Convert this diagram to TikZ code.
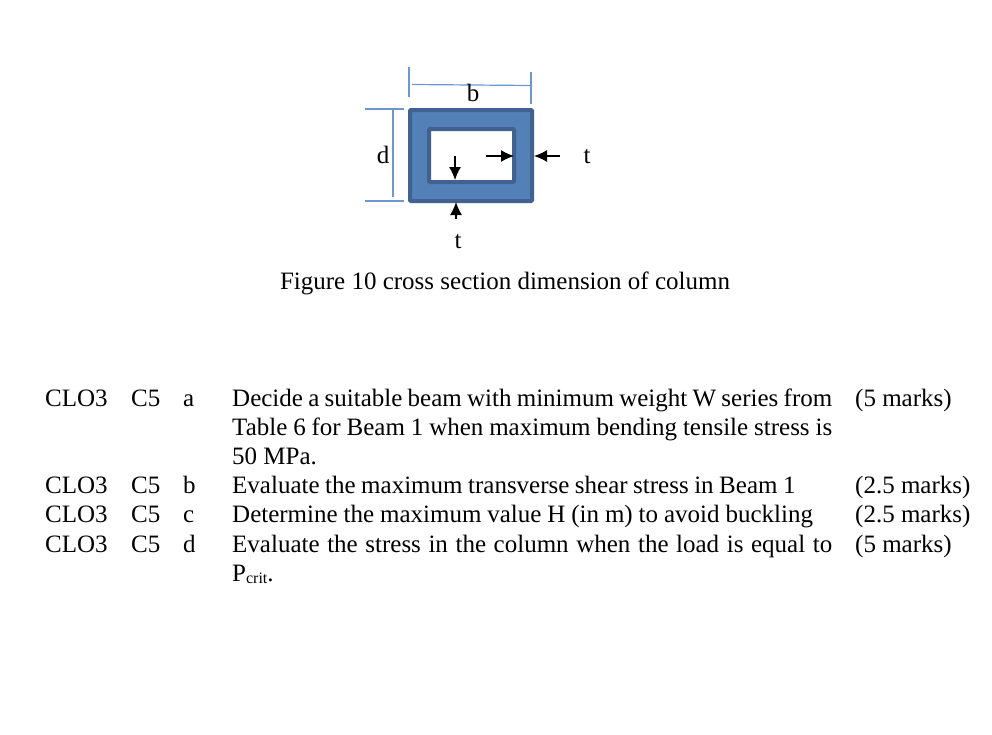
\documentclass[tikz,border=0pt]{standalone}
\usepackage{fontspec}
\setmainfont{Liberation Serif}
\usetikzlibrary{arrows.meta}
\definecolor{secfill}{HTML}{5480B8}
\definecolor{secline}{HTML}{41628F}
\definecolor{dimline}{HTML}{6F97CF}
\tikzset{
  txt/.style={inner sep=0pt,anchor=base west,font=\fontsize{25}{29}\selectfont},
  para/.style={txt,text width=600pt,align=justify},
  lbl/.style={inner sep=0pt,anchor=base,font=\fontsize{25}{29}\selectfont},
  dimen/.style={draw=dimline,line width=1.2pt},
  tarrow/.style={-{Latex[length=13pt,width=12pt]},line width=1.2pt,black}
}
\begin{document}
\begin{tikzpicture}[x=1pt,y=-1pt]
    \useasboundingbox (0,0) rectangle (992,734);
    % section
    \draw [fill=secfill,draw=secline,line width=4pt,rounded corners=1pt] (410,110) rectangle (532,201);
    \draw [fill=white,draw=secline,line width=4pt,rounded corners=1pt] (429,129) rectangle (514,182);

    % dimension lines
    \coordinate (bl1) at (409,67);
    \coordinate (bl2) at (409,97);
    \coordinate (br1) at (531,72);
    \coordinate (br2) at (531,104);
    \coordinate (bh1) at (412,84.5);
    \coordinate (bh2) at (532,85.5);
    \coordinate (dt1) at (365,109);
    \coordinate (dt2) at (404,109);
    \coordinate (db1) at (365,201);
    \coordinate (db2) at (404,201);
    \coordinate (dv1) at (393,110);
    \coordinate (dv2) at (393,197);
    \draw [dimen] (bl1) -- (bl2);
    \draw [dimen] (br1) -- (br2);
    \draw [dimen] (bh1) -- (bh2);
    \draw [dimen] (dt1) -- (dt2);
    \draw [dimen] (db1) -- (db2);
    \draw [dimen] (dv1) -- (dv2);

    % labels
    \node [lbl] (b) at (473,101) {b};
    \node [lbl] (d) at (383,163) {d};
    \node [lbl] (t1) at (587,163) {t};
    \node [lbl] (t2) at (458,248) {t};

    % thickness arrows
    \coordinate (ra1) at (486,156);
    \coordinate (ra2) at (514,156);
    \coordinate (la1) at (560,156);
    \coordinate (la2) at (534,156);
    \coordinate (da1) at (455,156);
    \coordinate (da2) at (455,180);
    \coordinate (ua1) at (456,219);
    \coordinate (ua2) at (456,202);
    \draw [tarrow] (ra1) -- (ra2);
    \draw [tarrow] (la1) -- (la2);
    \draw [tarrow] (da1) -- (da2);
    \draw [tarrow] (ua1) -- (ua2);

    \node [lbl] (caption) at (505,289) {Figure 10 cross section dimension of column};

    % questions
    \node [txt] (cloa) at (45,406) {CLO3};
    \node [txt] (ca) at (131,406) {C5};
    \node [txt] (la) at (183,406) {a};
    \node [para] (qa) at (232,406) {Decide a suitable beam with minimum weight W series from Table 6 for Beam 1 when maximum bending tensile stress is 50 MPa.};
    \node [txt] (ma) at (855,406) {(5 marks)};

    \node [txt] (clob) at (45,493) {CLO3};
    \node [txt] (cb) at (131,493) {C5};
    \node [txt] (lb) at (183,493) {b};
    \node [txt] (qb) at (232,493) {\spaceskip=5.5pt Evaluate the maximum transverse shear stress in Beam 1};
    \node [txt] (mb) at (855,493) {(2.5 marks)};

    \node [txt] (cloc) at (45,522) {CLO3};
    \node [txt] (cc) at (131,522) {C5};
    \node [txt] (lc) at (183,522) {c};
    \node [txt] (qc) at (232,522) {\spaceskip=5.9pt Determine the maximum value H (in m) to avoid buckling};
    \node [txt] (mc) at (855,522) {(2.5 marks)};

    \node [txt] (clod) at (45,552) {CLO3};
    \node [txt] (cd) at (131,552) {C5};
    \node [txt] (ld) at (183,552) {d};
    \node [para] (qd) at (232,552) {Evaluate the stress in the column when the load is equal to P\raisebox{-2.5pt}{\fontsize{16}{16}\selectfont crit}.};
    \node [txt] (md) at (855,552) {(5 marks)};
\end{tikzpicture}
\end{document}
